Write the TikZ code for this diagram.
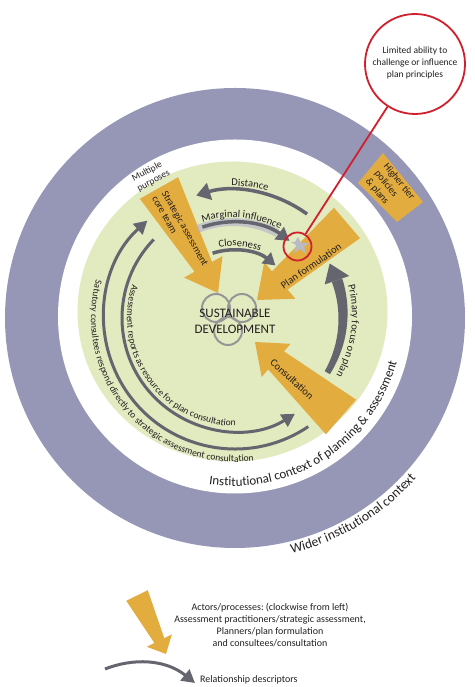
\documentclass[tikz,border=0pt]{standalone}
\usepackage{fontspec}
\setmainfont{Carlito}
\frenchspacing
\usetikzlibrary{calc,arrows.meta,decorations.text}
\definecolor{purp}{RGB}{150,151,183}
\definecolor{grn}{RGB}{226,234,192}
\definecolor{orc}{RGB}{227,172,62}
\definecolor{gry}{RGB}{100,101,110}
\definecolor{redc}{RGB}{208,32,46}
\definecolor{txt}{RGB}{35,31,32}
\definecolor{halo}{RGB}{175,176,205}
\definecolor{lgry}{RGB}{185,186,196}
\definecolor{logoc}{RGB}{150,150,150}
\newcommand{\wedgearr}[6]{%
  \coordinate (wS) at #1;
  \coordinate (wT) at #2;
  \coordinate (wN) at ($(wT)!#6pt!(wS)$);
  \fill[orc] ($(wS)!#3pt!90:(wT)$) -- ($(wN)!#4pt!90:(wT)$) -- ($(wN)!#5pt!90:(wT)$) -- (wT)
    -- ($(wN)!#5pt!-90:(wT)$) -- ($(wN)!#4pt!-90:(wT)$) -- ($(wS)!#3pt!-90:(wT)$) -- cycle;}
\tikzset{
  lbl/.style={text=txt, inner sep=0pt, font=\fontsize{10.5}{12.5}\selectfont},
  garc/.style={draw=gry, line width=3.5pt},
}
\begin{document}
\begin{tikzpicture}[x=1pt,y=1pt]
\useasboundingbox (0,0) rectangle (474,687);
\begin{scope}[shift={(233,371)}]
% rings
\fill[purp] (2,-2) circle[radius=230];
\fill[white] (2,-0.5) circle[radius=177];
\fill[grn] (-0.5,4.5) ellipse[x radius=155, y radius=150];
% higher tier box
\fill[orc] (125,133) -- (150,163) -- (190,114) -- (164,94) -- cycle;
\node[lbl, font=\fontsize{10}{11.5}\selectfont, rotate=-51, align=left] (higher) at (157,127) {Higher tier\\policies\\\& plans};
% logo circles
\draw[logoc, line width=2pt] (-17,8) circle[radius=14] (9,8) circle[radius=14] (-5,-15) circle[radius=14];
% wedges
\wedgearr{(-74,128)}{(-15,23)}{22}{10}{22}{30}
\wedgearr{(114,93)}{(24,16)}{20}{12}{24}{30}
\wedgearr{(108,-101)}{(22,-26)}{23}{12}{22}{28}
% grey arcs
\draw[halo, line width=8pt, opacity=.6] (112:94) arc[start angle=112, end angle=62, radius=94];
\draw[garc, -{Triangle[length=14pt,width=17pt]}] (54:126) arc[start angle=54, end angle=107, radius=126];
\draw[garc, -{Triangle[length=13pt,width=15pt]}] (109:94) arc[start angle=109, end angle=53, radius=94];
\draw[garc, -{Triangle[length=12pt,width=14pt]}] (108:66) arc[start angle=108, end angle=50, radius=66];
% thick arrow
\fill[gry] plot[domain=-31:19, samples=40] (\x:{113+2.5*(\x+31)/50}) -- plot[domain=19:-31, samples=40] (\x:{107-2.5*(\x+31)/50}) -- cycle;
\fill[gry] (19:97) -- (19:123) -- (28.5:110) -- cycle;
% left arcs
\draw[garc, line width=3pt, -{Triangle[length=13pt,width=14pt]}] ([shift={(2,-2)}]304:131) arc[start angle=304, end angle=132, radius=131];
\draw[garc, line width=3pt, -{Triangle[length=13pt,width=14pt]}] ([shift={(2,-2)}]136:113) arc[start angle=136, end angle=302, radius=113];
% blob
\fill[lgry] (58,74) -- (63,71) -- (61,63) -- (67,67) -- (73,62) -- (71,69) -- (76,73) -- (68,73) -- (65,79) -- (62,74) -- cycle;
% texts along paths
\path[decorate, decoration={text along path, text align=center, text={|\fontsize{10.5}{12}\selectfont\color{txt}|Distance}}] (127.6:130) arc[start angle=127.6, end angle=37.6, radius=130];
\path[decorate, decoration={text along path, text align=center, text={|\fontsize{10.5}{12}\selectfont\color{txt}|Marginal influence}}] (129.8:98.5) arc[start angle=129.8, end angle=39.8, radius=98.5];
\path[decorate, decoration={text along path, text align=center, text={|\fontsize{10.5}{12}\selectfont\color{txt}|Closeness}}] (129.4:70) arc[start angle=129.4, end angle=39.4, radius=70];
\path[decorate, decoration={text along path, text align=center, text={|\fontsize{10.5}{12}\selectfont\color{txt}|Primary focus on plan}}] (37.5:119) arc[start angle=37.5, end angle=-52.5, radius=119];
\path[decorate, decoration={text along path, text align=center, text={|\fontsize{9.5}{11}\selectfont\color{txt}|Satutory consultees respond directly to strategic assessment consultation}}] ([shift={(2,-2)}]131:144) arc[start angle=131, end angle=311, radius=144];
\path[decorate, decoration={text along path, text align=center, text={|\fontsize{9.5}{11}\selectfont\color{txt}|Assessment reports as resource for plan consultation}}] ([shift={(2,-2)}]126:108) arc[start angle=126, end angle=306, radius=108];
\path[decorate, decoration={text along path, text align=center, text={|\fontsize{13}{15}\selectfont\color{txt}|Institutional context of planning {\&} assessment}}] ([shift={(1,-1)}]-147:169) arc[start angle=-147, end angle=33, radius=169];
\path[decorate, decoration={text along path, text align=center, text={|\fontsize{13.5}{15}\selectfont\color{txt}|Wider institutional context}}] ([shift={(2,-2)}]-149:242) arc[start angle=-149, end angle=31, radius=242];
% straight labels
\node[lbl, font=\fontsize{9.5}{11}\selectfont, rotate=28, align=left] (multi) at (-82,140) {Multiple\\purposes};
\node[lbl, font=\fontsize{10}{11}\selectfont, rotate=-60.5, align=left] (strat) at (-52.5,85) {Strategic assessment\\core team};
\node[lbl, rotate=35] (planf) at (78,50) {Plan formulation};
\node[lbl, rotate=-42] (consul) at (59,-63) {Consultation};
\node[lbl, font=\fontsize{13}{16}\selectfont, align=center] (sd) at (2,-5.5) {SUSTAINABLE\\DEVELOPMENT};
% red callout
\node[circle, draw=redc, line width=1.8pt, fill=white, minimum size=100pt, inner sep=0pt] (bigc) at (182,252) {};
\node[lbl, font=\fontsize{9.5}{12}\selectfont, align=center] (bigtxt) at (182,253) {Limited ability to\\challenge or influence\\plan principles};
\node[circle, draw=redc, line width=1.8pt, minimum size=28pt, inner sep=0pt] (smallc) at (64.5,69.5) {};
\draw[redc, line width=1.8pt] (bigc) -- (smallc);
% legend
\wedgearr{(-96,-279.5)}{(-67,-338)}{12}{5.5}{14}{15}
\node[lbl, font=\fontsize{10}{12}\selectfont, align=center] (legA) at (37,-309) {Actors/processes: (clockwise from left)\\Assessment practitioners/strategic assessment,\\Planners/plan formulation\\and consultees/consultation};
\coordinate (lgs) at (-128,-353);
\coordinate (lge) at (-38,-367);
\draw[garc, line width=3pt, -{Triangle[length=13pt,width=14pt]}] (lgs) .. controls (-100,-342) and (-68,-343) .. (lge);
\node[lbl, font=\fontsize{10}{12}\selectfont, anchor=west] (legB) at (-33,-364) {Relationship descriptors};
\end{scope}
\end{tikzpicture}
\end{document}
